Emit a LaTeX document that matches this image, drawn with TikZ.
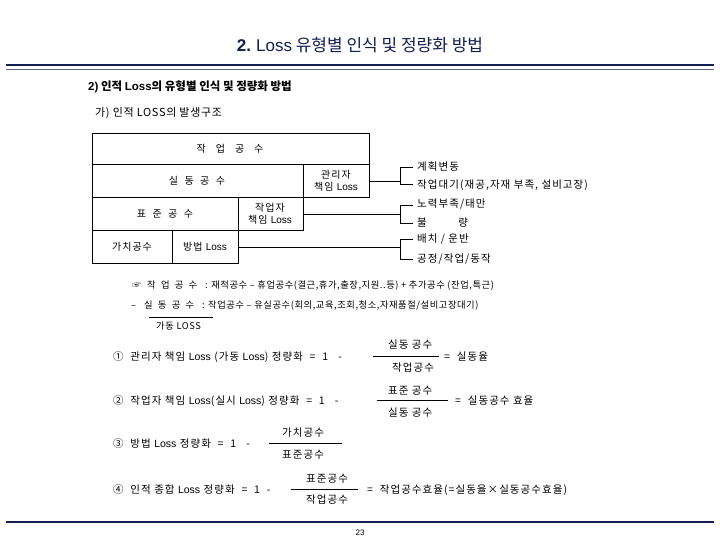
\documentclass[tikz,border=0pt]{standalone}
\usepackage{fontspec}
\setmainfont{Noto Sans CJK KR}
\newfontfamily\kr[LetterSpace=10]{Noto Sans CJK KR}
\newfontfamily\krs[LetterSpace=6]{Noto Sans CJK KR}
\newfontfamily\lat{Liberation Sans}
\definecolor{navy}{RGB}{20,30,80}
\begin{document}
\begin{tikzpicture}[x=1pt,y=-1pt,
  lab/.style={font=\kr\fontsize{10}{12}\selectfont,inner sep=0pt},
  txt/.style={font=\kr\fontsize{10.5}{11}\selectfont,anchor=west,inner sep=0pt},
  ln/.style={line width=0.6pt}]
\useasboundingbox (0,0) rectangle (720,540);
% title
\node[font=\fontsize{17}{18}\selectfont,text=navy] (title) at (360,45) {{\lat\bfseries 2.} {\lat Loss} 유형별 인식 및 정량화 방법};
\draw[line width=2pt,navy] (6,65) -- (714,65);
\draw[line width=0.6pt,navy!70] (6,69) -- (714,69);
\node[txt,font=\fontsize{11.5}{12}\selectfont\bfseries] (sub) at (88,87) {{\lat 2)} 인적 {\lat Loss}의 유형별 인식 및 정량화 방법};
\node[txt,font=\krs\fontsize{11}{12}\selectfont] (sub2) at (95,113) {가) 인적 LOSS의 발생구조};
% table
\draw[ln] (92,133) rectangle (369,164);
\draw[ln] (92,164) rectangle (303,197);
\draw[ln] (303,164) rectangle (369,197);
\draw[ln] (92,197) rectangle (238,230);
\draw[ln] (238,197) rectangle (303,230);
\draw[ln] (92,230) rectangle (172,263);
\draw[ln] (172,230) rectangle (238,263);
\node[lab] (a) at (230,149) {작\quad 업\quad 공\quad 수};
\node[lab] (b) at (197,181) {실\ \ 동\ \ 공\ \ 수};
\node[lab,align=center] (c) at (336,181) {관리자\\책임 {\lat Loss}};
\node[lab] (d) at (165,214) {표\ \ 준\ \ 공\ \ 수};
\node[lab,align=center] (e) at (270,214) {작업자\\책임 {\lat Loss}};
\node[lab] (f) at (132,247) {가치공수};
\node[lab] (g) at (205,247) {방법 {\lat Loss}};
\coordinate (c1) at (369,181); \coordinate (e1) at (303,214); \coordinate (g1) at (238,247);
\draw[ln] (c1) -- (400,181) (400,167) -- (400,184) (400,167) -- (413,167) (400,184) -- (413,184);
\draw[ln] (e1) -- (400,214) (400,205) -- (400,223) (400,205) -- (413,205) (400,223) -- (413,223);
\draw[ln] (g1) -- (400,247) (400,239) -- (400,259) (400,239) -- (413,239) (400,259) -- (413,259);
\node[txt] (r1) at (417,167) {계획변동};
\node[txt] (r2) at (417,185) {작업대기(재공,자재 부족, 설비고장)};
\node[txt] (r3) at (417,204) {노력부족/태만};
\node[txt] (r4) at (417,223) {불\qquad\quad 량};
\node[txt] (r5) at (417,239) {배치 / 운반};
\node[txt] (r6) at (417,259) {공정/작업/동작};
% notes
\begin{scope}[every node/.style={txt,font=\krs\fontsize{9.3}{10}\selectfont}]
\node (n0) at (132,286) {☞};
\node (n1) at (147,286) {작\ \ 업\ \ 공\ \ 수 \ \ : 재적공수 – 휴업공수(결근,휴가,출장,지원..등) + 추가공수 (잔업,특근)};
\node (n2) at (131,306) {–\ \ \ 실\ \ 동\ \ 공\ \ 수 \ \ : 작업공수 – 유실공수(회의,교육,조회,청소,자재품절/설비고장대기)};
\node (n3) at (156,326) {가동 LOSS};
\end{scope}
\draw[thin] (149,317) -- (213,317);
% formulas
\begin{scope}[every node/.style={txt}]
\node (f1) at (113,357) {①\ \ 관리자 책임 {\lat Loss} (가동 {\lat Loss}) 정량화\ \ =\ \ 1\ \ \ -};
\node (f1a) at (388,345) {실동 공수}; \node (f1b) at (392,368) {작업공수};
\node (f1c) at (444,357) {=\ \ 실동율};
\node (f2) at (113,401) {②\ \ 작업자 책임 {\lat Loss}(실시 {\lat Loss}) 정량화\ \ =\ \ 1\ \ \ -};
\node (f2a) at (388,391) {표준 공수}; \node (f2b) at (388,413) {실동 공수};
\node (f2c) at (455,401) {=\ \ 실동공수 효율};
\node (f3) at (113,444) {③\ \ 방법 {\lat Loss} 정량화\ \ =\ \ 1\ \ \ -};
\node (f3a) at (282,433) {가치공수}; \node (f3b) at (282,455) {표준공수};
\node (f4) at (113,490) {④\ \ 인적 종합 {\lat Loss} 정량화\ \ =\ \ 1\ \ -};
\node (f4a) at (306,479) {표준공수}; \node (f4b) at (306,500) {작업공수};
\node (f4c) at (367,490) {=\ \ 작업공수효율(=실동율×실동공수효율)};
\end{scope}
\draw[thin] (373,356) -- (439,356);
\draw[thin] (377,400) -- (448,400);
\draw[thin] (269,443) -- (342,443);
\draw[thin] (291,489) -- (358,489);
% footer
\draw[line width=2pt,navy] (6,522) -- (714,522);
\node[font=\fontsize{8}{9}\selectfont\lat] (pg) at (360,533) {23};
\end{tikzpicture}
\end{document}
